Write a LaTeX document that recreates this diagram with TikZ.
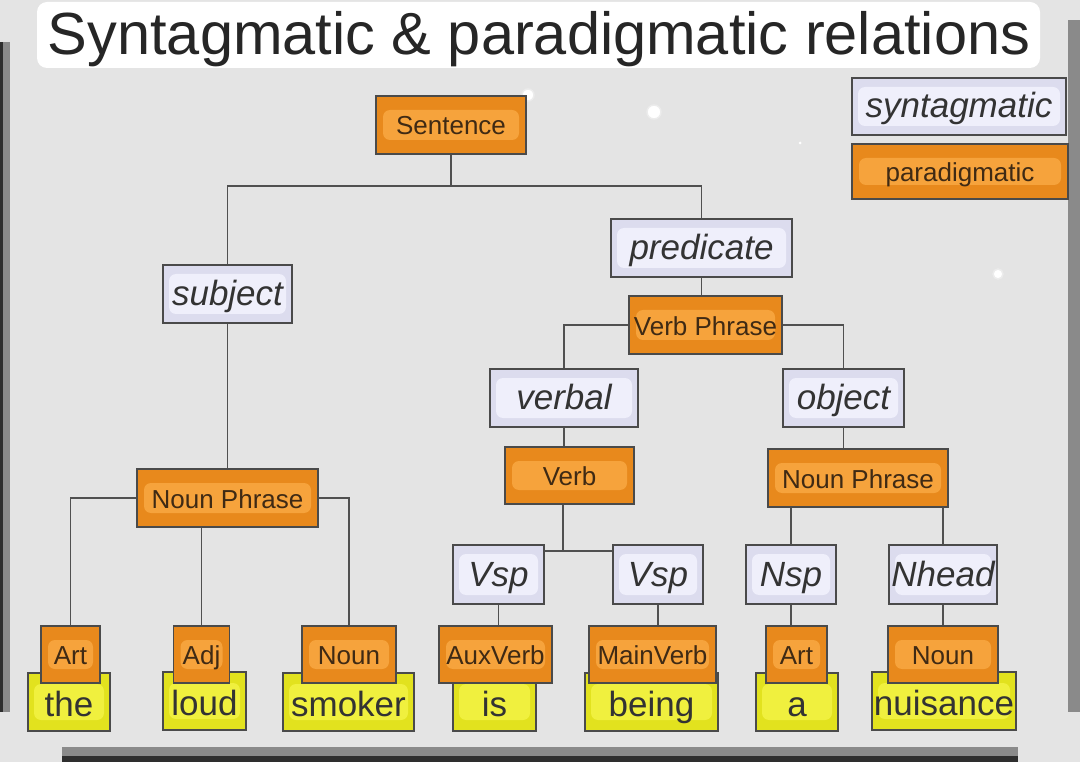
\documentclass[tikz,border=0pt]{standalone}
\usepackage{fontspec}
\setmainfont{Liberation Sans}
\definecolor{bgc}{HTML}{E4E4E4}
\definecolor{orng}{HTML}{E8891C}
\definecolor{orngl}{HTML}{F6A33C}
\definecolor{lav}{HTML}{DCDCEE}
\definecolor{lavl}{HTML}{EFEFFB}
\definecolor{yel}{HTML}{E2E21E}
\definecolor{yell}{HTML}{F0F03E}
\definecolor{boxline}{HTML}{4A4A4A}
\definecolor{wire}{HTML}{505050}
\definecolor{txt}{HTML}{333333}
\definecolor{otxt}{HTML}{3F2A14}
\definecolor{strip}{HTML}{8A8A8A}
\definecolor{dark}{HTML}{2E2E2E}
\tikzset{
  hl/.style n args={3}{path picture={\fill[#1,rounded corners=7]
      ([shift={(#2,#3)}]path picture bounding box.north west) rectangle
      ([shift={(-#2,-#3)}]path picture bounding box.south east);}},
  box/.style={draw=boxline, line width=1.4, inner sep=0, text=txt},
  para/.style={box, fill=orng, hl={orngl}{7}{14}, font=\fontsize{26}{28}\selectfont,
    text=otxt, text height=20, text depth=0},
  synt/.style={box, fill=lav, hl={lavl}{6}{9}, font=\fontsize{35}{38}\selectfont\itshape,
    text height=23, text depth=0},
  word/.style={box, fill=yel, hl={yell}{6}{11}, font=\fontsize{35}{38}\selectfont,
    text height=28, text depth=0},
  wire/.style={draw=wire, line width=1.6},
  dot/.style={fill=white, draw=white!85!gray, line width=1.5}
}
\begin{document}
\begin{tikzpicture}[x=1pt,y=-1pt]
\useasboundingbox (0,0) rectangle (1080,762);
% frame / background
\fill[bgc] (0,0) rectangle (1080,762);
\fill[strip] (0,42) rectangle (10,712);
\fill[dark] (0,42) rectangle (3,712);
\fill[strip] (1068,20) rectangle (1080,712);
\fill[strip] (62,747) rectangle (1018,756);
\fill[dark] (62,756) rectangle (1018,762);
\fill[white, rounded corners=10] (37,2) rectangle (1040,68);
\node[font=\fontsize{59.5}{62}\selectfont, text=black!85, inner sep=0, text height=42, text depth=0] (title) at (539,34) {Syntagmatic \& paradigmatic relations};
% small white dots
\fill[dot] (528,95) circle (6);
\fill[dot] (654,112) circle (7);
\fill[dot] (998,274) circle (5);
\fill[white] (800,143) circle (1.5);

% legend
\node[synt, minimum width=214, minimum height=57] (lsyn) at (959,106.5) {syntagmatic};
\node[para, minimum width=216, minimum height=55] (lpara) at (960,171.5) {paradigmatic};

% tree nodes
\node[para, minimum width=150, minimum height=58] (sent) at (451,125) {Sentence};
\node[synt, minimum width=181, minimum height=58] (pred) at (701.5,248) {predicate};
\node[synt, minimum width=129, minimum height=58] (subj) at (227.5,294) {subject};
\node[para, minimum width=153, minimum height=58] (vp) at (705.5,325) {Verb Phrase};
\node[synt, minimum width=148, minimum height=58] (verbal) at (564,398) {verbal};
\node[synt, minimum width=121, minimum height=58] (object) at (843.5,398) {object};
\node[para, minimum width=129, minimum height=57] (verb) at (569.5,475.5) {Verb};
\node[para, minimum width=180, minimum height=58] (npR) at (858,478) {Noun Phrase};
\node[para, minimum width=181, minimum height=58] (npL) at (227.5,498) {Noun Phrase};
\node[synt, minimum width=91, minimum height=59] (vsp1) at (498.5,574.5) {Vsp};
\node[synt, minimum width=90, minimum height=59] (vsp2) at (658,574.5) {Vsp};
\node[synt, minimum width=90, minimum height=59] (nsp) at (791,574.5) {Nsp};
\node[synt, minimum width=108, minimum height=59] (nhead) at (943,574.5) {Nhead};

% words (yellow) first
\node[word, minimum width=82, minimum height=58] (the) at (69,702) {the};
\node[word, minimum width=83, minimum height=58] (loud) at (204.5,701) {loud};
\node[word, minimum width=131, minimum height=58] (smoker) at (348.5,702) {smoker};
\node[word, minimum width=83, minimum height=58] (is) at (494.5,702) {is};
\node[word, minimum width=133, minimum height=58] (being) at (651.5,702) {being};
\node[word, minimum width=82, minimum height=58] (a) at (797,702) {a};
\node[word, minimum width=144, minimum height=58] (nuis) at (944,701) {nuisance};

% word classes (orange) on top
\node[para, minimum width=59, minimum height=57] (artL) at (70.5,654.5) {Art};
\node[para, minimum width=56, minimum height=57] (adj) at (201.5,654.5) {Adj};
\node[para, minimum width=94, minimum height=57] (nounL) at (349,654.5) {Noun};
\node[para, minimum width=113, minimum height=57] (aux) at (495.5,654.5) {AuxVerb};
\node[para, minimum width=127, minimum height=57] (mainv) at (652.5,654.5) {MainVerb};
\node[para, minimum width=61, minimum height=57] (artR) at (796.5,654.5) {Art};
\node[para, minimum width=110, minimum height=57] (nounR) at (943,654.5) {Noun};

% connectors
\coordinate (j1) at (449,186);
\coordinate (j2) at (563,551);
\draw[wire] (subj.north) |- (j1) -| (pred.north);
\draw[wire] (sent.south) -- (sent.south |- j1);
\draw[wire] (subj.south) -- (npL.north);
\draw[wire] (npL.west) -| (artL.north);
\draw[wire] (npL.east) -| (nounL.north);
\draw[wire] (adj.north |- npL.south) -- (adj.north);
\draw[wire] (pred.south) -- (pred.south |- vp.north);
\draw[wire] (vp.west) -| (verbal.north);
\draw[wire] (vp.east) -| (object.north);
\draw[wire] (verbal.south) -- (verbal.south |- verb.north);
\draw[wire] (j2 |- verb.south) -- (j2);
\draw[wire] (vsp1.east |- j2) -- (vsp2.west |- j2);
\draw[wire] (object.south) -- (object.south |- npR.north);
\draw[wire] (nsp.north |- npR.south) -- (nsp.north);
\draw[wire] (nhead.north |- npR.south) -- (nhead.north);
\draw[wire] (vsp1.south) -- (vsp1.south |- aux.north);
\draw[wire] (vsp2.south) -- (vsp2.south |- mainv.north);
\draw[wire] (nsp.south) -- (nsp.south |- artR.north);
\draw[wire] (nhead.south) -- (nhead.south |- nounR.north);
\end{tikzpicture}
\end{document}
